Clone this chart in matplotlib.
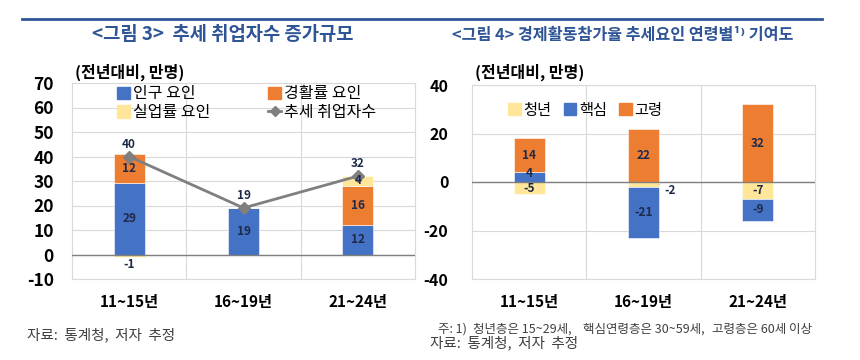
import matplotlib
matplotlib.use('Agg')
import matplotlib.pyplot as plt
from matplotlib.patches import Patch
from matplotlib.lines import Line2D
import numpy as np

plt.rcParams['font.family'] = ['Noto Sans CJK KR', 'DejaVu Sans']
plt.rcParams['axes.unicode_minus'] = False

# data
periods = ['11~15년', '16~19년', '21~24년']

# 그림 3
pop_factor = [29, 19, 12]       # 인구 요인
lfp_factor = [12, 0, 16]        # 경활률 요인
unemp_factor = [-1, 0, 4]       # 실업률 요인
trend_emp = [40, 19, 32]        # 추세 취업자수

# 그림 4
youth = [-5, -2, -7]            # 청년
core = [4, -21, -9]             # 핵심
elderly = [14, 22, 32]          # 고령

BLUE = '#4472C4'
ORANGE = '#ED7D31'
YELLOW = '#FFE699'
GRAY = '#7F7F7F'
NAVY = '#1F2A4A'
TITLE = '#2F5597'
GRID = '#D9D9D9'
NOTE = '#404040'

fig = plt.figure(figsize=(8.6, 3.6), dpi=100)


def px(x, y):
    return x / 860, 1 - y / 360


# top rule
fig.add_artist(Line2D([22 / 860, 822 / 860], [1 - 19 / 360] * 2, color=TITLE, lw=2))

fig.text(*px(223, 35), '<그림 3>  추세 취업자수 증가규모', ha='center', va='center',
         fontsize=13.5, fontweight='bold', color=TITLE)
fig.text(*px(623, 35), '<그림 4> 경제활동참가율 추세요인 연령별¹⁾ 기여도', ha='center', va='center',
         fontsize=11.7, fontweight='bold', color=TITLE)


def stack(ax, x, series, colors, width):
    pos = np.zeros(len(x))
    neg = np.zeros(len(x))
    out = []
    for vals, c in zip(series, colors):
        vals = np.array(vals, dtype=float)
        bottom = np.where(vals >= 0, pos, neg)
        ax.bar(x, vals, width, bottom=bottom, color=c, edgecolor='white', linewidth=0.4, zorder=3)
        out.append((vals, bottom))
        pos = pos + np.where(vals >= 0, vals, 0)
        neg = neg + np.where(vals < 0, vals, 0)
    return out


def style_axes(ax, ylim, yticks, ysize, ypad):
    ax.set_xlim(-0.5, 2.5)
    ax.set_ylim(*ylim)
    ax.set_yticks(yticks)
    ax.set_xticks(range(len(periods)))
    ax.set_xticklabels(periods, fontsize=11, fontweight='bold')
    for lab in ax.get_yticklabels():
        lab.set_fontsize(ysize)
        lab.set_fontweight('bold')
    ax.tick_params(length=0)
    ax.tick_params(axis='y', pad=ypad)
    ax.tick_params(axis='x', pad=11)
    ax.yaxis.grid(True, color=GRID, lw=0.8, zorder=0)
    for xv in [0.5, 1.5]:
        ax.axvline(xv, color=GRID, lw=0.8, zorder=0)
    for s in ax.spines.values():
        s.set_color(GRID)
        s.set_linewidth(0.8)
    ax.axhline(0, color=GRAY, lw=1, zorder=4)


x = np.arange(len(periods))
w = 0.27
lbl = dict(ha='center', va='center', fontsize=8.5, fontweight='bold', color=NAVY, zorder=6)

# ---- 그림 3
ax1 = fig.add_axes([72 / 860, 1 - 279 / 360, 343 / 860, 196 / 360])
style_axes(ax1, (-10, 70), range(-10, 71, 10), 12.5, 13)
stack(ax1, x, [pop_factor, lfp_factor, unemp_factor], [BLUE, ORANGE, YELLOW], w)
ax1.plot(x, trend_emp, color=GRAY, lw=2, marker='D', ms=6, zorder=5)

for i in range(len(x)):
    if pop_factor[i]:
        ax1.text(x[i], pop_factor[i] / 2, str(pop_factor[i]), **lbl)
    if lfp_factor[i]:
        ax1.text(x[i], pop_factor[i] + lfp_factor[i] / 2, str(lfp_factor[i]), **lbl)
    if unemp_factor[i] > 0:
        ax1.text(x[i], pop_factor[i] + lfp_factor[i] + unemp_factor[i] / 2, str(unemp_factor[i]), **lbl)
    elif unemp_factor[i] < 0:
        ax1.text(x[i], unemp_factor[i] - 3, str(unemp_factor[i]), **lbl)
    ax1.annotate(str(trend_emp[i]), (x[i], trend_emp[i]), xytext=(0, 9), textcoords='offset points', **lbl)

h1 = [Patch(color=BLUE, label='인구 요인'), Patch(color=YELLOW, label='실업률 요인'),
      Patch(color=ORANGE, label='경활률 요인'),
      Line2D([], [], color=GRAY, lw=2, marker='D', ms=5, label='추세 취업자수')]
ax1.legend(handles=h1, ncol=2, loc='upper left', bbox_to_anchor=(0.1, 1.045), frameon=False,
           fontsize=11.5, handlelength=0.8, handleheight=0.8, handletextpad=0.2,
           columnspacing=3.6, labelspacing=0.1, borderaxespad=0.3)
fig.text(*px(75, 72), '(전년대비, 만명)', ha='left', va='center', fontsize=11.5, fontweight='bold')
fig.text(*px(27, 335), '자료:  통계청,  저자  추정', ha='left', va='center', fontsize=10.5, color=NOTE)

# ---- 그림 4
ax2 = fig.add_axes([472 / 860, 1 - 279 / 360, 343 / 860, 194 / 360])
style_axes(ax2, (-40, 40), range(-40, 41, 20), 11.5, 17)
res = stack(ax2, x, [youth, core, elderly], [YELLOW, BLUE, ORANGE], w)
for vals, bottom in res:
    for i in range(len(x)):
        v = vals[i]
        if abs(v) >= 3:
            yv = bottom[i] + v / 2
            if 0 < v < 5:
                yv += 1.5
            ax2.text(x[i], yv, str(int(v)), **lbl)
        else:
            ax2.annotate(str(int(v)), (x[i] + w / 2, bottom[i] + v / 2),
                         xytext=(x[i] + w / 2 + 0.1, bottom[i] + v - 1.5),
                         arrowprops=dict(arrowstyle='-', color='#A6A6A6', lw=0.6), **lbl)

h2 = [Patch(color=YELLOW, label='청년'), Patch(color=BLUE, label='핵심'), Patch(color=ORANGE, label='고령')]
ax2.legend(handles=h2, ncol=3, loc='upper left', bbox_to_anchor=(0.075, 0.97), frameon=False,
           fontsize=11, handlelength=0.8, handleheight=0.8, handletextpad=0.2,
           columnspacing=0.8, borderaxespad=0.3)
fig.text(*px(475, 72), '(전년대비, 만명)', ha='left', va='center', fontsize=11.5, fontweight='bold')

note_parts = ['주: 1)', '청년층은 15~29세,', '핵심연령층은 30~59세,', '고령층은 60세 이상']
note_x = [438, 473, 583, 712]
for t, nx in zip(note_parts, note_x):
    fig.text(*px(nx, 329), t, ha='left', va='center', fontsize=9, color=NOTE)
fig.text(*px(430, 343), '자료:  통계청,  저자  추정', ha='left', va='center', fontsize=10.5, color=NOTE)

fig.savefig('out.png', dpi=100)
